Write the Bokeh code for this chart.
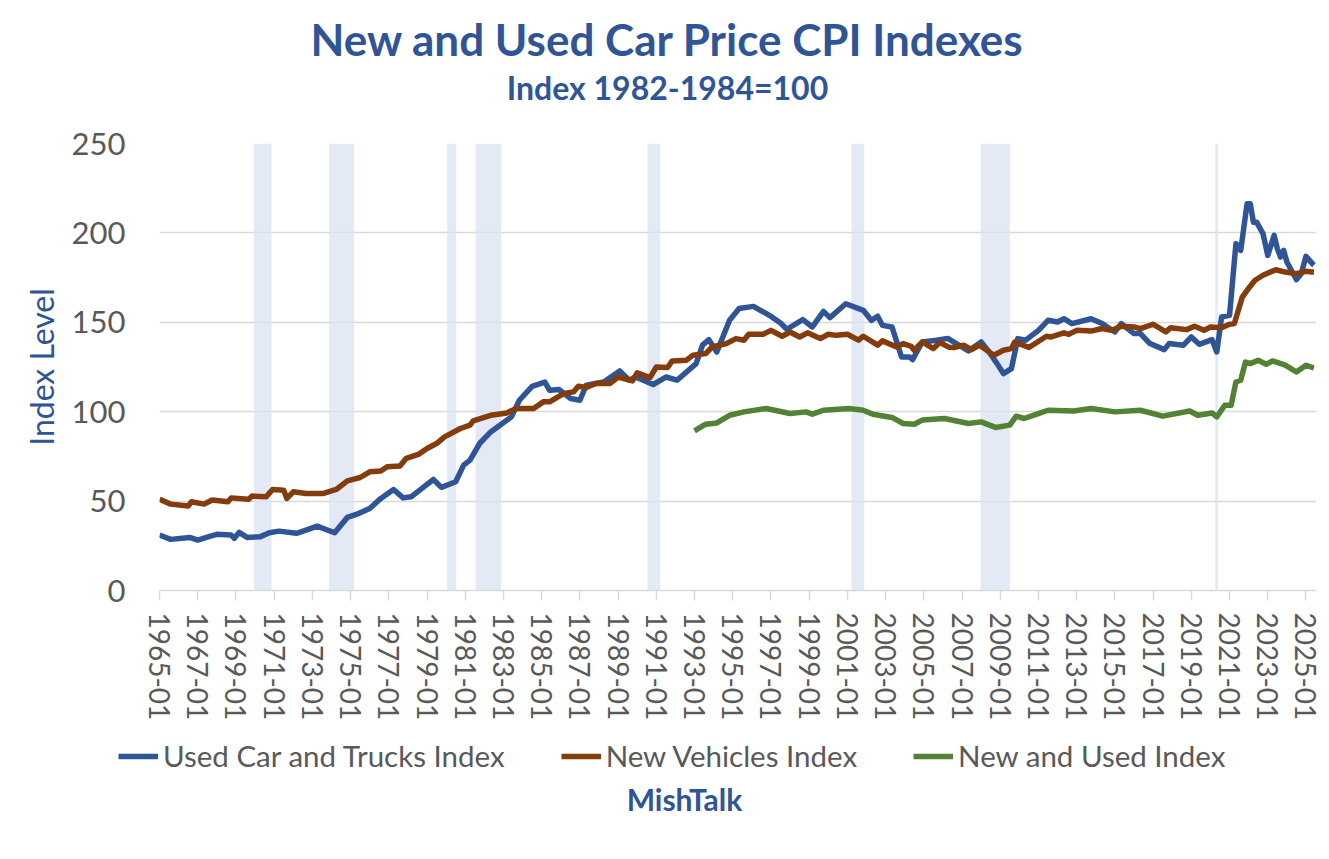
from bokeh.plotting import figure
from bokeh.models import (CustomJSTickFormatter, FixedTicker, Label, Legend,
                          LegendItem, Range1d)
from bokeh.embed import file_html
from bokeh.resources import INLINE

# ---- data (index 1982-1984 = 100), monthly dates as "YYYY-MM" ----
used_dates = [
    "1965-01", "1965-08", "1966-08", "1967-01", "1967-09", "1968-01", "1968-10",
    "1968-12", "1969-03", "1969-08", "1970-04", "1970-10", "1971-04", "1972-03",
    "1972-09", "1973-04", "1974-03", "1974-11", "1975-05", "1976-01", "1976-08",
    "1977-04", "1977-10", "1978-03", "1978-11", "1979-05", "1979-10", "1980-07",
    "1980-12", "1981-04", "1981-10", "1982-05", "1982-11", "1983-06", "1983-11",
    "1984-07", "1985-03", "1985-06", "1985-12", "1986-07", "1987-01", "1987-05",
    "1988-04", "1989-02", "1989-08", "1989-12", "1990-11", "1991-07", "1992-02",
    "1993-02", "1993-06", "1993-10", "1994-03", "1994-11", "1995-05", "1996-02",
    "1996-12", "1997-07", "1997-11", "1998-09", "1999-03", "1999-10", "2000-02",
    "2000-12", "2001-11", "2002-04", "2002-08", "2002-11", "2003-05", "2003-11",
    "2004-04", "2004-06", "2004-12", "2005-09", "2006-04", "2007-05", "2008-01",
    "2008-06", "2008-11", "2009-03", "2009-08", "2009-12", "2010-05", "2011-01",
    "2011-07", "2012-01", "2012-05", "2012-10", "2013-10", "2014-05", "2015-01",
    "2015-05", "2016-01", "2016-05", "2016-11", "2017-08", "2017-11", "2018-08",
    "2019-01", "2019-06", "2020-02", "2020-05", "2020-08", "2021-01", "2021-05",
    "2021-08", "2021-10", "2021-12", "2022-02", "2022-04", "2022-06", "2022-10",
    "2023-01", "2023-05", "2023-07", "2023-09", "2023-11", "2024-01", "2024-07",
    "2024-10", "2025-01", "2025-05", "2025-06",
]
used_index = [
    31.0, 28.6, 29.7, 28.2, 30.4, 31.4, 31.0,
    29.2, 32.5, 29.7, 30.0, 32.3, 33.2, 32.0,
    33.8, 36.0, 32.3, 40.9, 42.7, 45.9, 51.5,
    56.5, 51.8, 52.4, 58.0, 62.1, 57.7, 60.8,
    70.1, 72.9, 82.2, 88.7, 92.5, 97.1, 106.4,
    114.2, 116.6, 112.0, 112.4, 107.4, 106.4, 114.8,
    116.6, 122.8, 117.6, 119.4, 115.2, 119.4, 117.6,
    126.9, 137.2, 140.3, 133.4, 151.1, 157.7, 158.9,
    153.9, 149.6, 146.1, 151.5, 147.4, 156.1, 152.6,
    160.4, 156.7, 151.1, 153.4, 148.3, 147.4, 130.6,
    130.6, 129.2, 139.0, 140.0, 141.0, 134.0, 139.0,
    133.4, 126.9, 121.3, 124.1, 140.9, 140.0, 145.5,
    151.1, 150.2, 152.0, 149.3, 152.0, 149.3, 144.6,
    149.3, 143.7, 143.7, 138.1, 134.7, 138.1, 137.2,
    141.8, 137.7, 140.3, 133.4, 153.0, 153.9, 194.0,
    190.2, 203.2, 216.3, 216.3, 206.0, 206.0, 199.6,
    187.4, 198.6, 191.2, 186.5, 190.2, 183.7, 173.9,
    177.2, 186.9, 182.8, 182.0,
]

new_dates = [
    "1965-01", "1965-08", "1966-07", "1966-09", "1967-05", "1967-10", "1968-08",
    "1968-10", "1969-09", "1969-11", "1970-08", "1970-12", "1971-07", "1971-09",
    "1972-01", "1972-09", "1973-08", "1974-04", "1974-11", "1975-07", "1976-01",
    "1976-08", "1976-12", "1977-08", "1977-12", "1978-08", "1979-01", "1979-07",
    "1979-12", "1980-10", "1981-04", "1981-06", "1982-05", "1983-03", "1983-09",
    "1984-08", "1985-02", "1985-06", "1986-03", "1986-09", "1986-12", "1987-05",
    "1987-11", "1988-08", "1989-01", "1989-10", "1990-01", "1990-09", "1991-01",
    "1991-08", "1991-11", "1992-08", "1992-12", "1993-08", "1993-12", "1994-09",
    "1995-03", "1995-08", "1995-11", "1996-08", "1997-01", "1997-08", "1998-01",
    "1998-07", "1998-12", "1999-08", "2000-01", "2000-06", "2001-01", "2001-08",
    "2001-11", "2002-08", "2002-11", "2003-08", "2003-12", "2004-05", "2004-07",
    "2004-12", "2005-07", "2005-11", "2006-05", "2006-08", "2007-02", "2007-07",
    "2007-12", "2008-09", "2009-03", "2009-08", "2009-10", "2010-07", "2011-06",
    "2011-09", "2012-05", "2012-08", "2013-01", "2013-10", "2014-05", "2014-11",
    "2015-05", "2016-01", "2016-05", "2017-01", "2017-09", "2017-12", "2018-10",
    "2019-03", "2019-09", "2020-01", "2020-08", "2021-01", "2021-04", "2021-09",
    "2021-12", "2022-05", "2022-10", "2023-06", "2023-12", "2024-07", "2025-01",
    "2025-05", "2025-06",
]
new_index = [
    51.0, 48.3, 47.2, 49.6, 48.3, 50.6, 49.6,
    51.8, 51.0, 52.8, 52.4, 56.5, 56.1, 51.5,
    55.2, 54.3, 54.3, 56.5, 61.3, 63.2, 66.4,
    66.8, 69.2, 69.6, 73.9, 76.3, 79.4, 82.2,
    85.9, 90.6, 92.5, 94.9, 98.0, 99.3, 101.8,
    101.8, 105.5, 105.5, 110.2, 111.1, 114.2, 113.5,
    115.8, 115.8, 119.4, 117.2, 121.7, 119.1, 125.0,
    124.7, 128.4, 128.8, 131.6, 132.5, 136.2, 138.1,
    140.9, 140.0, 143.3, 143.3, 145.5, 142.2, 144.6,
    141.8, 144.1, 140.9, 143.3, 142.7, 143.3, 140.0,
    142.2, 137.2, 139.6, 136.2, 138.1, 136.6, 134.4,
    139.0, 135.3, 138.7, 136.0, 135.9, 137.2, 134.7,
    137.2, 131.6, 134.4, 135.3, 139.0, 135.9, 142.2,
    141.8, 144.1, 143.3, 145.5, 145.1, 146.5, 145.5,
    147.8, 147.4, 146.5, 148.9, 144.6, 147.0, 145.9,
    147.8, 145.5, 147.4, 147.0, 148.9, 149.3, 164.1,
    167.9, 173.5, 176.3, 179.4, 178.1, 177.2, 178.5,
    178.1, 178.0,
]

combined_dates = [
    "1993-01", "1993-08", "1994-03", "1994-11", "1995-08", "1996-10", "1998-01",
    "1998-11", "1999-03", "1999-10", "2001-02", "2001-11", "2002-05", "2003-05",
    "2003-12", "2004-07", "2004-12", "2006-02", "2007-05", "2008-01", "2008-10",
    "2009-07", "2009-11", "2010-04", "2010-12", "2011-07", "2012-11", "2013-10",
    "2015-01", "2016-05", "2017-07", "2018-12", "2019-05", "2020-02", "2020-05",
    "2020-10", "2021-02", "2021-05", "2021-08", "2021-11", "2022-02", "2022-07",
    "2022-12", "2023-04", "2023-12", "2024-07", "2025-01", "2025-05", "2025-06",
]
combined_index = [
    89.3, 93.0, 93.7, 98.0, 99.9, 101.8, 99.0,
    99.9, 98.6, 100.8, 101.8, 100.8, 98.6, 96.8,
    93.4, 93.0, 95.3, 96.2, 93.4, 94.3, 91.2,
    92.5, 97.5, 96.2, 98.6, 100.8, 100.4, 101.8,
    99.9, 100.8, 97.5, 100.4, 98.0, 99.3, 97.1,
    103.6, 103.6, 116.6, 117.6, 127.8, 126.9, 128.8,
    126.5, 128.4, 126.0, 122.2, 126.0, 124.7, 124.5,
]

# recession periods (fractional years)
recession_start = [1969.95, 1973.88, 1980.05, 1981.54, 1990.54, 2001.21, 2007.97, 2020.25]
recession_end = [1970.86, 1975.19, 1980.53, 1982.88, 1991.20, 2001.88, 2009.50, 2020.39]

y_ticks = [0, 50, 100, 150, 200, 250]
x_ticks = list(range(1965, 2026, 2))

series_names = ["Used Car and Trucks Index", "New Vehicles Index", "New and Used Index"]
series_colors = ["#2F5597", "#843C0C", "#548235"]


def to_year(s):
    y, m = s.split("-")
    return int(y) + (int(m) - 1) / 12.0


W = 1329
TOP_H, MAIN_H, BOT_H = 120, 610, 129
X0, X1 = 1965.0, 2025.55

FONT = "Lato"
BLUE_T = "#2F5597"
GREY_T = "#595959"
GRID = "#D9D9D9"
LW = 5.5


def text_panel(height):
    """A bare figure whose frame fills the whole canvas, in pixel units (y down)."""
    f = figure(width=W, height=height, output_backend="svg", toolbar_location=None,
               x_range=Range1d(0, W), y_range=Range1d(height, 0),
               x_axis_type=None, y_axis_type=None,
               min_border_left=0, min_border_right=0,
               min_border_top=0, min_border_bottom=0)
    f.outline_line_color = None
    f.grid.visible = False
    return f


# ---- heading ----
head = text_panel(TOP_H)
head.add_layout(Label(x=667, y=38, text="New and Used Car Price CPI Indexes",
                      text_align="center", text_baseline="middle",
                      text_font=FONT, text_font_size="44px", text_font_style="bold",
                      text_color=BLUE_T))
head.add_layout(Label(x=667, y=87, text="Index 1982-1984=100",
                      text_align="center", text_baseline="middle",
                      text_font=FONT, text_font_size="32px", text_font_style="bold",
                      text_color=BLUE_T))

# ---- main chart ----
p = figure(width=W, height=MAIN_H, output_backend="svg", toolbar_location=None,
           x_range=Range1d(X0, X1), y_range=Range1d(0, 250),
           min_border_left=159, min_border_right=13,
           min_border_top=23, min_border_bottom=140)
p.outline_line_color = None

p.quad(left=recession_start, right=recession_end, bottom=0, top=250,
       fill_color="#DAE3F3", fill_alpha=0.75, line_color=None)

for xs, ys, c in zip([used_dates, new_dates, combined_dates],
                     [used_index, new_index, combined_index], series_colors):
    p.line([to_year(d) for d in xs], ys, line_color=c, line_width=LW, line_join="round")

p.xgrid.grid_line_color = None
p.ygrid.grid_line_color = GRID
p.ygrid.grid_line_width = 1.5

p.yaxis.ticker = FixedTicker(ticks=y_ticks)
p.yaxis.axis_line_color = None
p.yaxis.major_tick_line_color = None
p.yaxis.minor_tick_line_color = None
p.yaxis.major_label_text_font = FONT
p.yaxis.major_label_text_font_size = "31px"
p.yaxis.major_label_text_color = GREY_T
p.yaxis.major_label_standoff = 28
p.yaxis.axis_label = "Index Level"
p.yaxis.axis_label_text_font = FONT
p.yaxis.axis_label_text_font_size = "32px"
p.yaxis.axis_label_text_font_style = "normal"
p.yaxis.axis_label_text_color = BLUE_T
p.yaxis.axis_label_standoff = 8

p.xaxis.ticker = FixedTicker(ticks=x_ticks)
p.xaxis.formatter = CustomJSTickFormatter(code="return Math.round(tick) + '-01';")
p.xaxis.major_label_orientation = "vertical"
p.xaxis.major_label_text_font = FONT
p.xaxis.major_label_text_font_size = "28px"
p.xaxis.major_label_text_color = GREY_T
p.xaxis.major_label_standoff = 12
p.xaxis.axis_line_color = GRID
p.xaxis.axis_line_width = 1.5
p.xaxis.major_tick_line_color = GRID
p.xaxis.major_tick_line_width = 1.5
p.xaxis.major_tick_in = 0
p.xaxis.major_tick_out = 10
p.xaxis.minor_tick_line_color = None

# ---- legend and credit ----
foot = text_panel(BOT_H)
nan = float("nan")
keys = [foot.line([nan], [nan], line_color=c, line_width=LW) for c in series_colors]
legend = Legend(items=[LegendItem(label=n, renderers=[r]) for n, r in zip(series_names, keys)],
                orientation="horizontal", location=(118, 86),
                padding=0, margin=0, spacing=56, glyph_width=40, glyph_height=20,
                label_standoff=5, label_text_font=FONT, label_text_font_size="29.5px",
                label_text_color=GREY_T, border_line_color=None,
                background_fill_alpha=0)
foot.add_layout(legend)
foot.add_layout(Label(x=684, y=68, text="MishTalk",
                      text_align="center", text_baseline="middle",
                      text_font=FONT, text_font_size="30px", text_font_style="bold",
                      text_color=BLUE_T))

open("out.html", "w").write(file_html([head, p, foot], INLINE))
